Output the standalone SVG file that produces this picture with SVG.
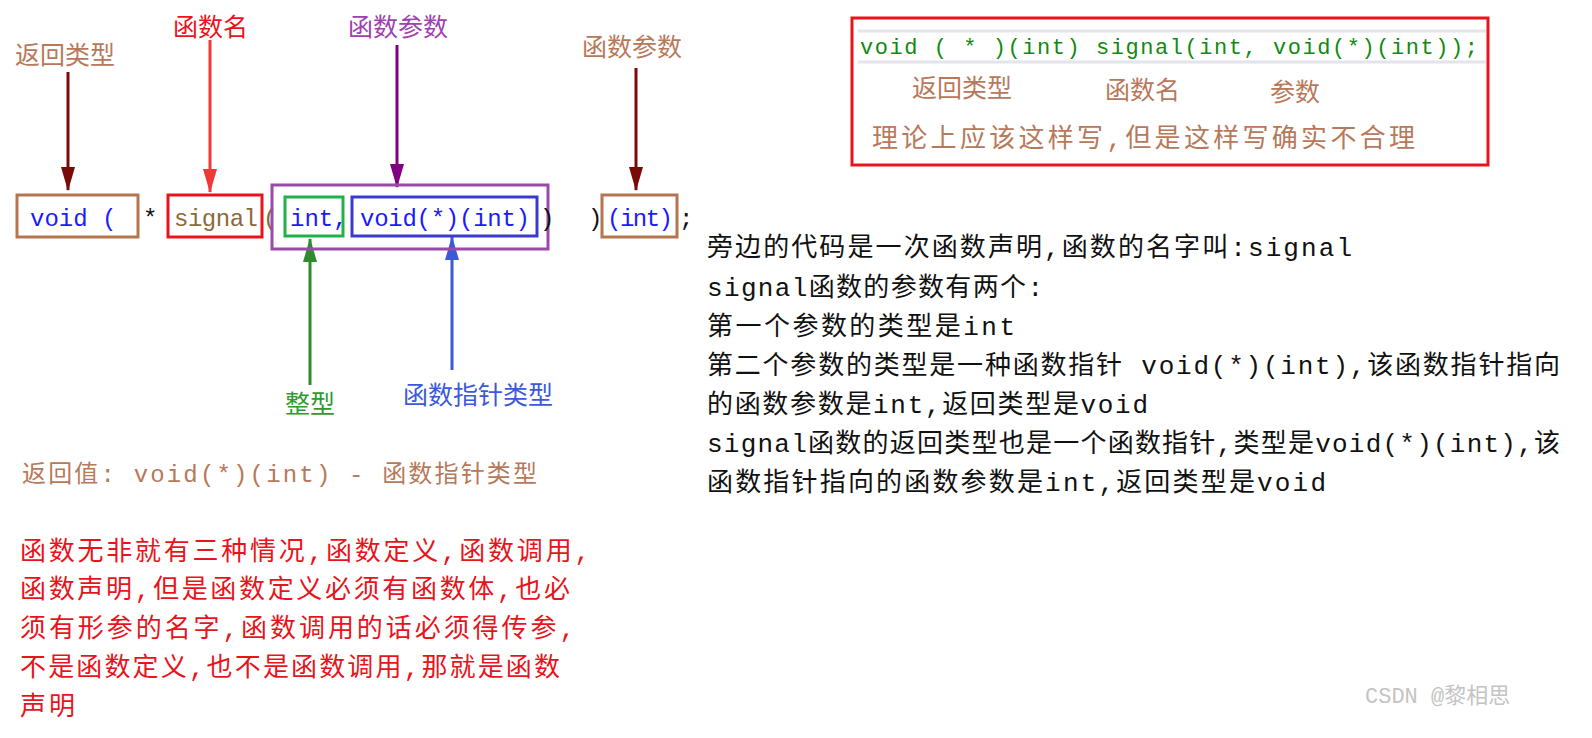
<svg xmlns="http://www.w3.org/2000/svg" width="1592" height="738" viewBox="0 0 1592 738">
<defs>
<style>
text{font-family:"Liberation Mono","Noto Sans CJK SC",monospace;}
.lb{font-size:25px}
.code{font-size:24px;fill:#1a1aff}
.br{fill:#b8785a}
.p{font-size:26px;fill:#111}
.r{font-size:26px;fill:#e8141c}
</style>
<marker id="m1" viewBox="0 0 24 14" refX="23" refY="7" markerWidth="24" markerHeight="14" markerUnits="userSpaceOnUse" orient="auto"><path d="M0,0L24,7L0,14z" fill="context-stroke"/></marker>
</defs>
<rect width="1592" height="738" fill="#fff"/>
<g id="connectors" stroke-width="3" fill="none">
<line x1="68" y1="72" x2="68" y2="190" stroke="#7a0a0a" marker-end="url(#m1)"/>
<line x1="210" y1="40" x2="210" y2="192" stroke="#f03838" marker-end="url(#m1)"/>
<line x1="397" y1="45" x2="397" y2="187" stroke="#800080" marker-end="url(#m1)"/>
<line x1="636" y1="68" x2="636" y2="190" stroke="#7a0a0a" marker-end="url(#m1)"/>
<line x1="310" y1="385" x2="310" y2="239" stroke="#2e8b2e" marker-end="url(#m1)"/>
<line x1="452" y1="370" x2="452" y2="237" stroke="#3a5ad8" marker-end="url(#m1)"/>
</g>
<g id="decl">
<rect x="17" y="195" width="121" height="42" fill="none" stroke="#b5764f" stroke-width="3"/>
<text x="30" y="226" class="code">void (</text>
<text x="143" y="226" font-size="24" fill="#111">*</text>
<rect x="168" y="195" width="94" height="42" fill="none" stroke="#e8141c" stroke-width="3"/>
<text x="174" y="226" font-size="24" fill="#8b6a3a" textLength="84">signal</text>
<text x="263" y="226" font-size="24" fill="#8b6a3a">(</text>
<rect x="272" y="185" width="276" height="64" fill="none" stroke="#9a4aa8" stroke-width="3"/>
<rect x="285" y="197" width="58" height="39" fill="none" stroke="#22b04a" stroke-width="3"/>
<text x="290" y="226" class="code">int,</text>
<rect x="352" y="197" width="185" height="39" fill="none" stroke="#3a3ad0" stroke-width="3"/>
<text x="360" y="226" class="code" textLength="170">void(*)(int)</text>
<text x="540" y="226" font-size="24" fill="#111">)</text>
<text x="588" y="226" font-size="24" fill="#111">)</text>
<rect x="602" y="195" width="75" height="42" fill="none" stroke="#b5764f" stroke-width="3"/>
<text x="607" y="226" class="code" textLength="66">(int)</text>
<text x="679" y="226" font-size="24" fill="#111">;</text>
</g>
<g id="labels">
<text x="15" y="64" class="lb br">返回类型</text>
<text x="173" y="36" class="lb" fill="#e8141c">函数名</text>
<text x="348" y="36" class="lb" fill="#a040b0">函数参数</text>
<text x="582" y="56" class="lb br">函数参数</text>
<text x="285" y="413" class="lb" fill="#2e9b2e">整型</text>
<text x="403" y="404" class="lb" fill="#3a5ad8">函数指针类型</text>
<text x="22" y="482" font-size="24" class="br" textLength="515">返回值: void(*)(int) - 函数指针类型</text>
</g>
<g id="note-red">
<text x="20" y="560" class="r" textLength="570">函数无非就有三种情况,函数定义,函数调用,</text>
<text x="20" y="598" class="r" textLength="550">函数声明,但是函数定义必须有函数体,也必</text>
<text x="20" y="637" class="r" textLength="555">须有形参的名字,函数调用的话必须得传参,</text>
<text x="20" y="676" class="r" textLength="540">不是函数定义,也不是函数调用,那就是函数</text>
<text x="20" y="715" class="r" textLength="55">声明</text>
</g>
<g id="note-right">
<text x="707" y="256" class="p" textLength="645">旁边的代码是一次函数声明,函数的名字叫:signal</text>
<text x="707" y="296" class="p" textLength="336">signal函数的参数有两个:</text>
<text x="707" y="335" class="p" textLength="308">第一个参数的类型是int</text>
<text x="707" y="374" class="p" textLength="853">第二个参数的类型是一种函数指针 void(*)(int),该函数指针指向</text>
<text x="707" y="413" class="p" textLength="441">的函数参数是int,返回类型是void</text>
<text x="707" y="452" class="p" textLength="853">signal函数的返回类型也是一个函数指针,类型是void(*)(int),该</text>
<text x="707" y="491" class="p" textLength="619">函数指针指向的函数参数是int,返回类型是void</text>
</g>
<g id="box-top">
<rect x="852" y="18" width="636" height="147" fill="none" stroke="#e8141c" stroke-width="3"/>
<line x1="858" y1="31" x2="1486" y2="31" stroke="#e4e4ec" stroke-width="3"/>
<line x1="858" y1="62" x2="1486" y2="62" stroke="#e4e4ec" stroke-width="3"/>
<text x="860" y="54" font-size="22" fill="#108a10" textLength="618">void ( * )(int)  signal(int, void(*)(int));</text>
<text x="912" y="97" class="lb br">返回类型</text>
<text x="1105" y="99" class="lb br">函数名</text>
<text x="1270" y="101" class="lb br">参数</text>
<text x="872" y="147" font-size="26" class="br" textLength="543">理论上应该这样写,但是这样写确实不合理</text>
</g>
<text x="1365" y="703" font-size="22" fill="#c4c4c4" font-family="Liberation Sans,Noto Sans CJK SC,sans-serif">CSDN @黎相思</text>
</svg>
